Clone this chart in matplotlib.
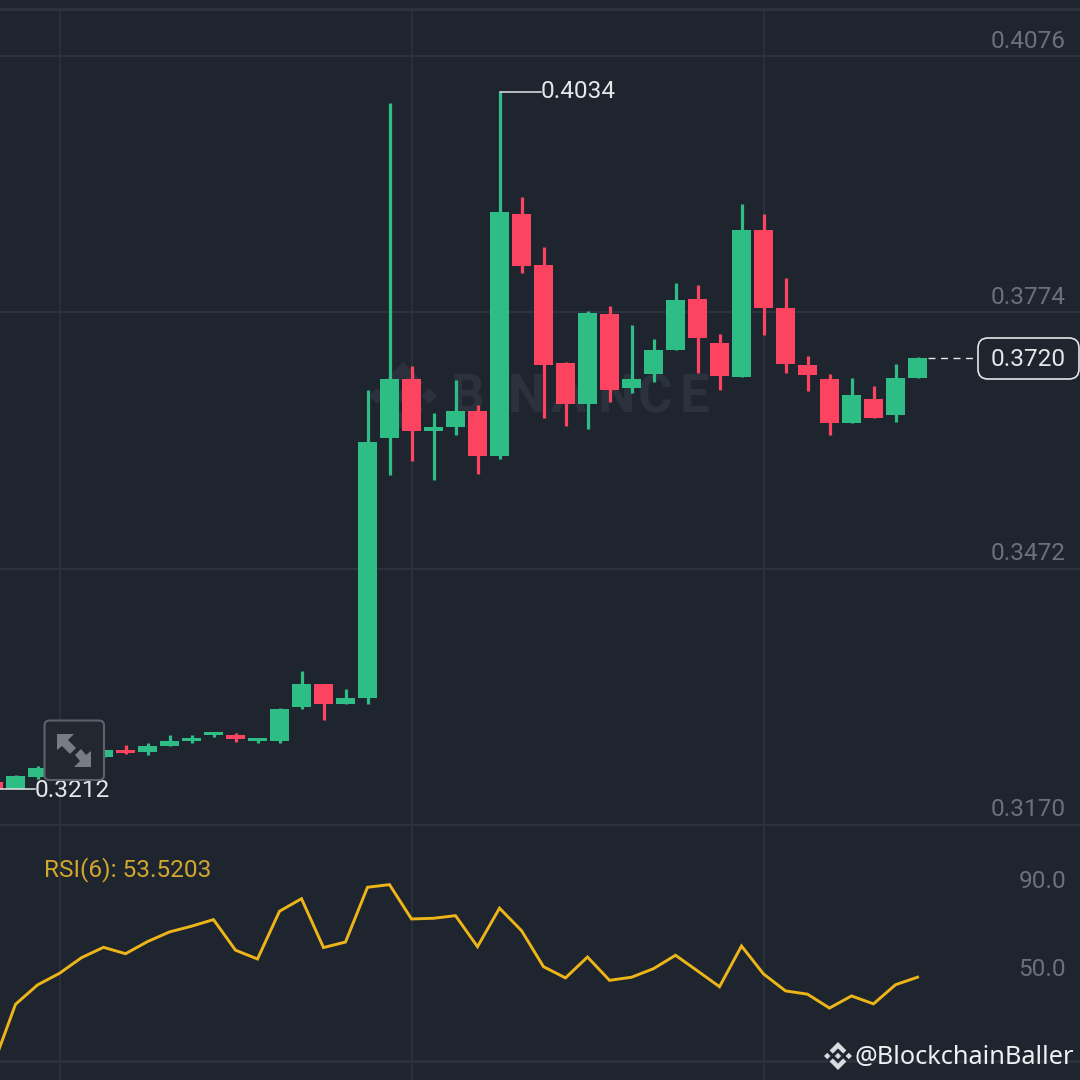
import numpy as np
import matplotlib.pyplot as plt
from matplotlib.patches import FancyBboxPatch, Polygon

plt.rcParams['font.family'] = ['Roboto', 'DejaVu Sans']

# Data - candles, oldest first
opens = [.3221, .3212, .3227, .3237, .3243, .3250, .3258, .3256, .3263, .3269, .3276,
         .3276, .3269, .3269, .3309, .3336, .3313, .3320, .3626, .3696, .3634, .3639,
         .3658, .3605, .3890, .3830, .3714, .3666, .3772, .3685, .3701, .3730, .3790,
         .3738, .3698, .3871, .3779, .3712, .3695, .3644, .3672, .3653, .3697]
highs = [.3221, .3229, .3239, .3245, .3251, .3258, .3264, .3266, .3276, .3276, .3280,
         .3278, .3272, .3308, .3351, .3336, .3330, .3682, .4021, .3711, .3655, .3694,
         .3665, .4034, .3910, .3851, .3716, .3776, .3781, .3759, .3742, .3809, .3806,
         .3748, .3902, .3890, .3814, .3723, .3701, .3697, .3687, .3713, .3721]
lows = [.3212, .3212, .3224, .3235, .3241, .3250, .3254, .3252, .3263, .3267, .3274,
        .3268, .3266, .3266, .3307, .3294, .3313, .3313, .3582, .3599, .3577, .3629,
        .3583, .3601, .3820, .3649, .3640, .3637, .3668, .3679, .3692, .3730, .3703,
        .3682, .3698, .3747, .3703, .3681, .3629, .3644, .3649, .3645, .3697]
closes = [.3212, .3228, .3237, .3243, .3249, .3258, .3255, .3263, .3269, .3273, .3280,
          .3271, .3272, .3306, .3336, .3313, .3320, .3621, .3696, .3634, .3639, .3658,
          .3605, .3892, .3829, .3712, .3666, .3773, .3682, .3696, .3730, .3789, .3744,
          .3699, .3871, .3779, .3713, .3700, .3644, .3677, .3650, .3697, .3720]
rsi_values = [13.9, 41.2, 50.0, 55.3, 62.4, 67.1, 64.2, 69.7, 74.1, 76.7, 79.7, 65.8,
              61.8, 83.5, 89.2, 67.0, 69.5, 94.4, 95.6, 80.0, 80.3, 81.5, 67.4, 84.9,
              74.7, 58.3, 53.2, 62.7, 52.1, 53.5, 57.4, 63.5, 56.4, 49.2, 67.7, 55.0,
              47.3, 45.8, 39.5, 45.0, 41.4, 50.1, 53.5203]

price_ticks = [0.4076, 0.3774, 0.3472, 0.3170]
price_labels = ['0.4076', '0.3774', '0.3472', '0.3170']
rsi_ticks = [90.0, 50.0]
rsi_labels = ['90.0', '50.0']
time_ticks = [3, 19, 35]
high_label = '0.4034'
low_label = '0.3212'
last_label = '0.3720'
rsi_label = 'RSI(6): 53.5203'
handle = '@BlockchainBaller'

# colors
bg = '#1F252F'
grid = '#2D333E'
up = '#2EBD85'
down = '#FC4460'
axis_text = '#6A717C'
white = '#E4E6E8'
gold = '#EDB518'
mark = '#2C323D'

px = 1 / 22.  # one pixel in candle units
fs = 17.6


def logo(ax, cx, cy, r, color):
    # exchange logo, drawn in pixels
    top = [(0, -1), (.6, -.4), (.37, -.17), (0, -.54), (-.37, -.17), (-.6, -.4)]
    pieces = [top, [(a, -b) for a, b in top]]
    for dx in (-.77, 0, .77):
        pieces.append([(dx, -.23), (dx + .23, 0), (dx, .23), (dx - .23, 0)])
    for piece in pieces:
        ax.add_patch(Polygon([(cx + a * r, cy + b * r) for a, b in piece],
                             color=color, lw=0))


fig = plt.figure(figsize=(10.8, 10.8), dpi=100, facecolor=bg)

# background layer, watermark
back = fig.add_axes([0, 0, 1, 1], zorder=0)
back.set_xlim(0, 1080)
back.set_ylim(1080, 0)
back.axis('off')
logo(back, 403, 396, 34, mark)
for letter, left in zip('BINANCE', [451, 493, 508, 551, 598, 638, 680]):
    back.text(left, 398, letter, color=mark, fontsize=38, fontweight='bold',
              va='center', ha='left')

# candles
ax = fig.add_axes([0, 255 / 1080, 1, 825 / 1080], zorder=1)
ax.patch.set_alpha(0)
ax.set_xlim(6.5 / 22, 1086.5 / 22)
ax.set_ylim(0.31699, 0.41420)
ax.axis('off')

xs = np.arange(len(opens))
o = np.array(opens)
c = np.array(closes)
colors = [up if b >= a else down for a, b in zip(opens, closes)]

for t in time_ticks:
    ax.plot([t, t], [0.31699, 0.41314], color=grid, lw=1.2, zorder=1)
for p, label in zip(price_ticks, price_labels):
    ax.axhline(p, color=grid, lw=1.4, zorder=1, clip_on=False)
    ax.annotate(label, xy=(1, p), xycoords=('axes fraction', 'data'), xytext=(-14, 15),
                textcoords='offset pixels', ha='right', va='center', color=axis_text,
                fontsize=fs)
ax.axhline(0.41314, color=grid, lw=2.2, zorder=1)

ax.vlines(xs, lows, highs, colors=colors, lw=2.3, zorder=2)
ax.bar(xs, np.abs(c - o), bottom=np.minimum(o, c), width=19.5 * px, color=colors,
       lw=0, zorder=3)

# highest and lowest markers
i_high = int(np.argmax(highs))
ax.plot([i_high, i_high + 41 * px], [highs[i_high]] * 2, color=white, lw=1.1, zorder=4)
ax.annotate(high_label, xy=(i_high + 41.5 * px, highs[i_high]), ha='left', va='center',
            color=white, fontsize=fs, zorder=5)
i_low = int(np.argmin(lows))
ax.plot([i_low, i_low + 41 * px], [lows[i_low]] * 2, color=white, lw=1.1, zorder=4)
ax.annotate(low_label, xy=(i_low + 41.5 * px, lows[i_low]), xytext=(0, -1),
            textcoords='offset pixels', ha='left', va='center',
            color=white, fontsize=fs, zorder=5)

# last price
ax.plot([xs[-1] + 10 * px, xs[-1] + 60 * px], [closes[-1]] * 2, color=white, lw=1,
        ls=(0, (5, 4)), zorder=4)

# RSI pane
rsi = fig.add_axes([0, 0, 1, 255 / 1080], zorder=1)
rsi.patch.set_alpha(0)
rsi.set_xlim(6.5 / 22, 1086.5 / 22)
rsi.set_ylim(6.8, 122.7)
rsi.axis('off')
for t in time_ticks:
    rsi.axvline(t, color=grid, lw=1.2, zorder=1)
rsi.axhline(15.45, color=grid, lw=1.8, zorder=1)
rsi.plot(xs, rsi_values, color=gold, lw=2.1, zorder=3, solid_joinstyle='miter')
for p, label in zip(rsi_ticks, rsi_labels):
    rsi.annotate(label, xy=(1, p), xycoords=('axes fraction', 'data'), xytext=(-14, 15),
                 textcoords='offset pixels', ha='right', va='center', color=axis_text,
                 fontsize=fs)
rsi.text(44 / 1080, 1 - 45 / 255, rsi_label, transform=rsi.transAxes, color='#D2A72E',
         fontsize=fs, va='center', ha='left')

# things on top of the chart, in pixels
top = fig.add_axes([0, 0, 1, 1], zorder=3)
top.patch.set_alpha(0)
top.set_xlim(0, 1080)
top.set_ylim(1080, 0)
top.axis('off')

# last price box
top.add_patch(FancyBboxPatch((988, 348), 81, 21, boxstyle='round,pad=10,rounding_size=10',
                             fc=bg, ec=white, lw=1.2))
top.text(1066, 360, last_label, color=white, fontsize=fs, ha='right', va='center')

# expand button
top.add_patch(FancyBboxPatch((50, 726), 48.5, 48.5, boxstyle='round,pad=5.5,rounding_size=5',
                             fc='#23272F', ec='#5C626C', lw=1.5))
arrow_color = '#777C86'
top.add_patch(Polygon([(57, 734), (74, 734), (68, 740), (76, 748), (70, 754), (62, 746),
                       (57, 750)], color=arrow_color, lw=0))
top.add_patch(Polygon([(91, 767), (74, 767), (80, 761), (75, 755), (81, 749), (86, 755),
                       (91, 751)], color=arrow_color, lw=0))

# credit
logo(top, 838, 1056, 14, '#D8DADD')
top.text(855, 1057, handle, color='#EFF0F1', fontsize=18.2, family=['Noto Sans', 'DejaVu Sans'],
         ha='left', va='center')

plt.savefig('out.png', dpi=100, facecolor=bg)
